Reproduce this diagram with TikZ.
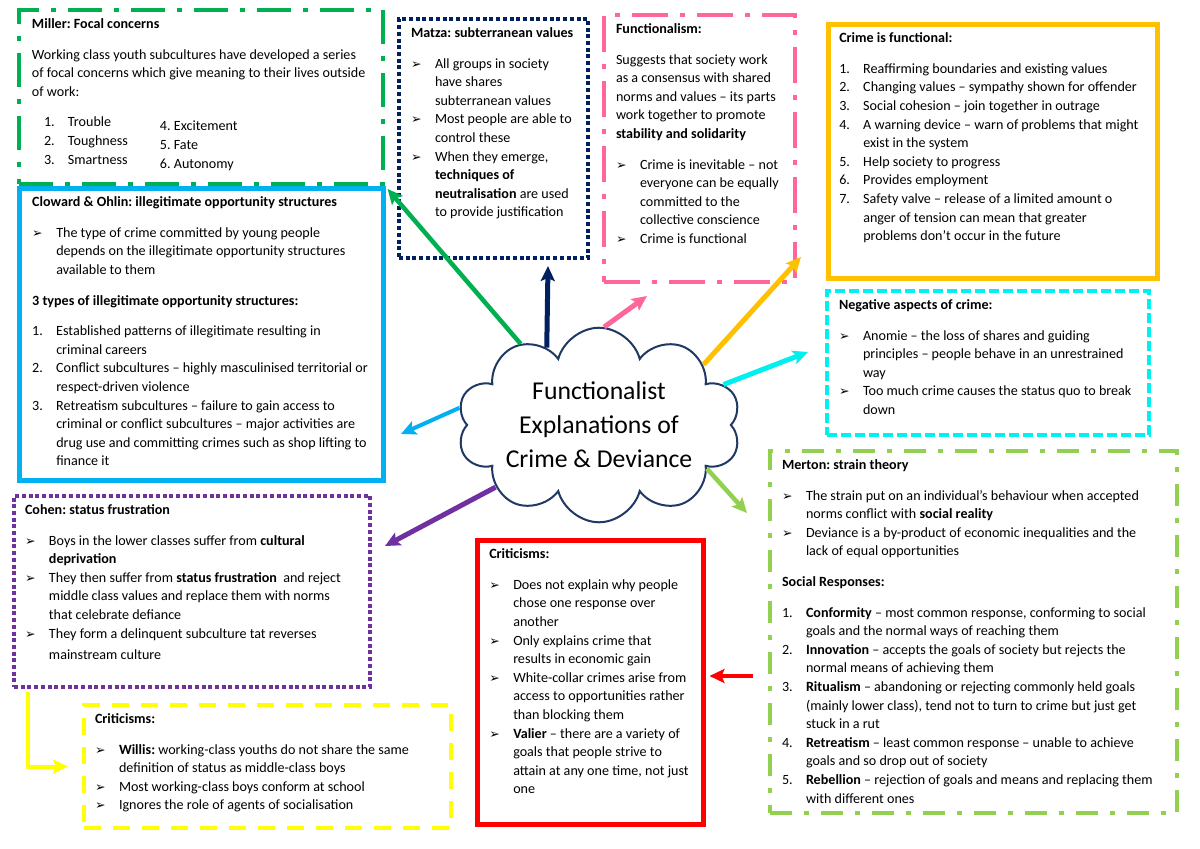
\documentclass[tikz,border=0pt]{standalone}
\usepackage{fontspec}
\setmainfont{Carlito}
\newfontfamily\dingfont{DejaVu Sans}
\usetikzlibrary{arrows.meta,shapes.symbols}

\definecolor{millgreen}{HTML}{00B050}
\definecolor{matznavy}{HTML}{002060}
\definecolor{funcpink}{HTML}{FF6699}
\definecolor{cfunorange}{HTML}{FFC000}
\definecolor{negacyan}{HTML}{00F0F0}
\definecolor{mertgreen}{HTML}{92D050}
\definecolor{critred}{HTML}{FF0000}
\definecolor{clowblue}{HTML}{00B0F0}
\definecolor{cohepurple}{HTML}{7030A0}
\definecolor{wcriyellow}{HTML}{FFFF00}
\definecolor{cloudnavy}{HTML}{1F3864}

\newcommand{\boxtxt}[4]{\parbox[t][#2pt][t]{#1pt}{\fontsize{14.1}{18.6}\selectfont\frenchspacing\raggedright\let\\\newline\leftskip=#3pt\relax\rule{0pt}{18.5pt}#4}}
\newcommand{\bul}{{\dingfont\fontsize{12.5}{12.5}\selectfont ➢}}
\newcommand{\bitem}[1]{\par\hangindent=24pt\hangafter=1\noindent\makebox[24pt][l]{\bul}#1}
\newcommand{\nitem}[2]{\par\hangindent=24pt\hangafter=1\noindent\makebox[24pt][l]{#1}#2}
\newcommand{\gap}{\par\vspace{12pt}}

\begin{document}
\begin{tikzpicture}[x=1pt,y=-1pt,
  panel/.style={draw, line width=4pt, inner sep=0pt, anchor=north west},
  dashdot/.style={dash pattern=on #1 off 12pt on 5pt off 12pt},
  dotline/.style={dash pattern=on 4pt off 2.7pt},
  link/.style={line width=5pt, -{Stealth[length=15pt,width=14pt,inset=3pt]}}]
\fill[white] (0,0) rectangle (1200,849);
\useasboundingbox (0,0) rectangle (1200,849);

\draw (17,8) node (mill) [panel, draw=millgreen, dashdot=34pt] {\boxtxt{364}{174}{13}{%
\textbf{Miller: Focal concerns}\gap
Working class youth subcultures have developed a series\\ of focal concerns which give meaning to their lives outside\\ of work:\gap
\hspace*{12pt}\makebox[24pt][l]{1.}\makebox[92pt][l]{Trouble}\raisebox{-4pt}[0pt][0pt]{4. Excitement}\\
\hspace*{12pt}\makebox[24pt][l]{2.}\makebox[92pt][l]{Toughness}\raisebox{-4pt}[0pt][0pt]{5. Fate}\\
\hspace*{12pt}\makebox[24pt][l]{3.}\makebox[92pt][l]{Smartness}\raisebox{-4pt}[0pt][0pt]{6. Autonomy}}};

\draw (397,17) node (matz) [panel, draw=matznavy, dotline] {\boxtxt{189}{239}{12}{%
\textbf{Matza: subterranean values}\gap
\bitem{All groups in society\\ have shares\\ subterranean values}
\bitem{Most people are able to\\ control these}
\bitem{When they emerge,\\ \textbf{techniques of}\\ \textbf{neutralisation} are used\\ to provide justification}}};

\draw (602,13) node (func) [panel, draw=funcpink, dash pattern=on 36pt off 12pt on 5pt off 12pt] {\boxtxt{191}{267}{12}{%
\textbf{Functionalism:}\gap
Suggests that society work\\ as a consensus with shared\\ norms and values – its parts\\ work together to promote\\ \textbf{stability and solidarity}\gap
\bitem{Crime is inevitable – not\\ everyone can be equally\\ committed to the\\ collective conscience}
\bitem{Crime is functional}}};

\draw (826,22) node (cfun) [panel, draw=cfunorange, line width=4.5pt] {\boxtxt{329}{254}{11}{%
\textbf{Crime is functional:}\gap
\nitem{1.}{Reaffirming boundaries and existing values}
\nitem{2.}{Changing values – sympathy shown for offender}
\nitem{3.}{Social cohesion – join together in outrage}
\nitem{4.}{A warning device – warn of problems that might\\ exist in the system}
\nitem{5.}{Help society to progress}
\nitem{6.}{Provides employment}
\nitem{7.}{Safety valve – release of a limited amount o\\ anger of tension can mean that greater\\ problems don’t occur in the future}}};

\draw (825,289) node (nega) [panel, draw=negacyan, dash pattern=on 10pt off 4pt] {\boxtxt{322}{144}{12}{%
\textbf{Negative aspects of crime:}\gap
\bitem{Anomie – the loss of shares and guiding\\ principles – people behave in an unrestrained\\ way}
\bitem{Too much crime causes the status quo to break\\ down}}};

\draw (768,449) node (mert) [panel, draw=mertgreen, dashdot=22pt] {\boxtxt{407}{362}{12}{%
\textbf{Merton: strain theory}\gap
\bitem{The strain put on an individual’s behaviour when accepted\\ norms conflict with \textbf{social reality}}
\bitem{Deviance is a by-product of economic inequalities and the\\ lack of equal opportunities}\gap
\textbf{Social Responses:}\gap
\nitem{1.}{\textbf{Conformity} – most common response, conforming to social\\ goals and the normal ways of reaching them}
\nitem{2.}{\textbf{Innovation} – accepts the goals of society but rejects the\\ normal means of achieving them}
\nitem{3.}{\textbf{Ritualism} – abandoning or rejecting commonly held goals\\ (mainly lower class), tend not to turn to crime but just get\\ stuck in a rut}
\nitem{4.}{\textbf{Retreatism} – least common response – unable to achieve\\ goals and so drop out of society}
\nitem{5.}{\textbf{Rebellion} – rejection of goals and means and replacing them\\ with different ones}}};

\draw (475,538) node (crit) [panel, draw=critred, line width=4.5pt] {\boxtxt{226}{284}{12}{%
\textbf{Criticisms:}\gap
\bitem{Does not explain why people\\ chose one response over\\ another}
\bitem{Only explains crime that\\ results in economic gain}
\bitem{White-collar crimes arise from\\ access to opportunities rather\\ than blocking them}
\bitem{\textbf{Valier} – there are a variety of\\ goals that people strive to\\ attain at any one time, not just\\ one}}};

\draw (17,186) node (clow) [panel, draw=clowblue, line width=4.5pt] {\boxtxt{364}{292}{13}{%
\textbf{Cloward \& Ohlin: illegitimate opportunity structures}\gap
\bitem{The type of crime committed by young people\\ depends on the illegitimate opportunity structures\\ available to them}\gap
\textbf{3 types of illegitimate opportunity structures:}\gap
\nitem{1.}{Established patterns of illegitimate resulting in\\ criminal careers}
\nitem{2.}{Conflict subcultures – highly masculinised territorial or\\ respect-driven violence}
\nitem{3.}{Retreatism subcultures – failure to gain access to\\ criminal or conflict subcultures – major activities are\\ drug use and committing crimes such as shop lifting to\\ finance it}}};

\draw (12,494) node (cohe) [panel, draw=cohepurple, dotline] {\boxtxt{356}{191}{11}{%
\textbf{Cohen: status frustration}\gap
\bitem{Boys in the lower classes suffer from \textbf{cultural}\\ \textbf{deprivation}}
\bitem{They then suffer from \textbf{status frustration}~ and reject\\ middle class values and replace them with norms\\ that celebrate defiance}
\bitem{They form a delinquent subculture tat reverses\\ \raisebox{-3pt}{mainstream culture}}}};

\draw (82,703) node (wcri) [panel, draw=wcriyellow, dash pattern=on 17pt off 12pt] {\boxtxt{367}{123}{11}{%
\textbf{Criticisms:}\gap
\bitem{\textbf{Willis:} working-class youths do not share the same\\ definition of status as middle-class boys}
\bitem{Most working-class boys conform at school}
\bitem{Ignores the role of agents of socialisation}}};

\draw (599,425) node (cld) [cloud, cloud puffs=10, aspect=1.9, draw=cloudnavy, fill=white, line width=2pt, inner sep=0pt, minimum width=262pt, minimum height=140pt, align=center, font=\fontsize{25.7}{34}\selectfont] {Functionalist\\Explanations of\\Crime \& Deviance};

\coordinate (tmat) at (548,266);
\coordinate (tfun) at (647,296);
\coordinate (tcfu) at (801,257);
\coordinate (tneg) at (808,352);
\coordinate (tclo) at (401,434);
\coordinate (tmer) at (747,513);
\coordinate (tcoh) at (385,546);
\coordinate (tred) at (753,676);

\draw[link, millgreen, line width=4.5pt, shorten >=4pt] (cld.134) -- (mill.south east);
\draw[link, matznavy] (cld.124) -- (tmat);
\draw[link, funcpink] (cld.87) -- (tfun);
\draw[link, cfunorange] (cld.30) -- (tcfu);
\draw[link, negacyan] (cld.18) -- (tneg);
\draw[link, clowblue, line width=4pt] (cld.173) -- (tclo);
\draw[link, mertgreen, line width=4.5pt] (cld.-22) -- (tmer);
\draw[link, cohepurple] (cld.211) -- (tcoh);
\draw[link, critred, line width=4pt, shorten >=4pt] (tred) -- (tred -| crit.east);
\draw[link, wcriyellow, line width=4pt] ([xshift=16pt,yshift=-3pt]cohe.south west) |- ([xshift=-14pt]wcri.west);
\end{tikzpicture}
\end{document}
